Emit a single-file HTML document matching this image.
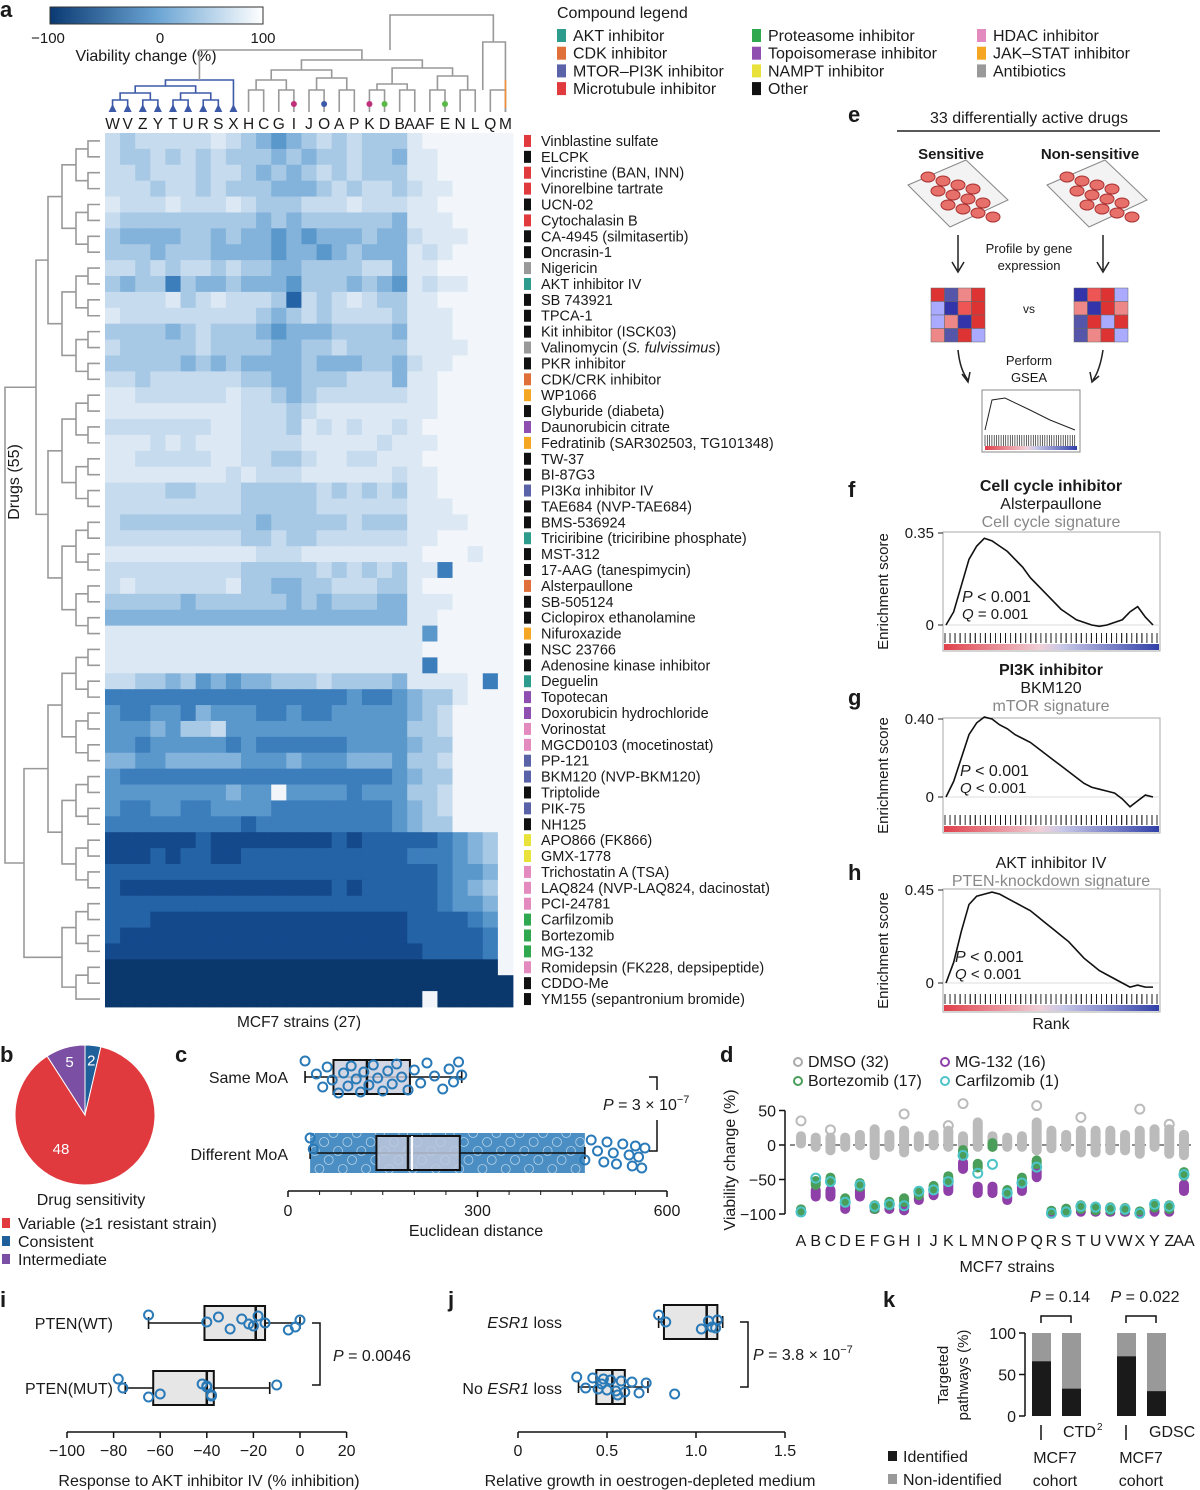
<!DOCTYPE html>
<html><head><meta charset="utf-8">
<style>
html,body{margin:0;padding:0;background:#fff;}
svg{display:block;font-family:"Liberation Sans",Arial,sans-serif;}
</style></head>
<body>
<svg id="fig" width="1200" height="1490" viewBox="0 0 1200 1490" xmlns="http://www.w3.org/2000/svg">
<g id="root"></g>
</svg>
<script>
// ---------- DATA ----------
const heatRows = [
"232222212345432323331000000","233232323334343323341100000","223222322343432323331100000",
"222322323334443232232110000","122212221233322212221100000","233333333343433333341110000",
"344443343445454443442111000","333433344445445434441210000","223232232334433332241100000",
"343363443444533343451211000","222213212223723212331100000","122222222234323222231110000",
"333343233345444333341110000","233333233334433233331111000","333334343444434443342110000",
"223222222334433322241100000","112222221223432222221100000","111111111222321111111100000",
"222222211222312121121000000","111212111222211111211100000","112222211223321122111000000",
"111111112122211111121100000","222233222333332323231100000","222222222333332222221110000",
"233333333343333323331111000","222222222332332222221100000","111111111122211111111000100",
"222222222333332323231160000","212222221334433222331000000","333334333333434333441110000",
"444444444444444444441100000","111111111111111111111500000","111111111111111111111000000",
"111111111111111111111600000","223343545443332333341111060","666666666666666656654331000",
"566556455566566555554320000","555453325555555555553320000","556555556566666655554330000",
"445544444555455544453320000","566666666666666666654330000","555555554550555565553320000",
"566556655556666666654320000","666666666766666666654330000","888888788888888787777765430",
"888787788777777777776665430","777777777777777777777765540","788888888888888787777765430",
"777777777777777777777765540","777888888888888888887777650","788888888888888888887777760",
"888888888888888888888777760","999999999999999999999999990","999999999999999999999999999",
"999999999999999999999099999"];
const drugNames = ["Vinblastine sulfate","ELCPK","Vincristine (BAN, INN)","Vinorelbine tartrate","UCN-02","Cytochalasin B","CA-4945 (silmitasertib)","Oncrasin-1","Nigericin","AKT inhibitor IV","SB 743921","TPCA-1","Kit inhibitor (ISCK03)","Valinomycin (S. fulvissimus)","PKR inhibitor","CDK/CRK inhibitor","WP1066","Glyburide (diabeta)","Daunorubicin citrate","Fedratinib (SAR302503, TG101348)","TW-37","BI-87G3","PI3Kα inhibitor IV","TAE684 (NVP-TAE684)","BMS-536924","Triciribine (triciribine phosphate)","MST-312","17-AAG (tanespimycin)","Alsterpaullone","SB-505124","Ciclopirox ethanolamine","Nifuroxazide","NSC 23766","Adenosine kinase inhibitor","Deguelin","Topotecan","Doxorubicin hydrochloride","Vorinostat","MGCD0103 (mocetinostat)","PP-121","BKM120 (NVP-BKM120)","Triptolide","PIK-75","NH125","APO866 (FK866)","GMX-1778","Trichostatin A (TSA)","LAQ824 (NVP-LAQ824, dacinostat)","PCI-24781","Carfilzomib","Bortezomib","MG-132","Romidepsin (FK228, depsipeptide)","CDDO-Me","YM155 (sepantronium bromide)"];
const drugClass = ["X","O","X","X","O","X","O","O","G","A","O","O","O","G","O","C","J","O","T","J","O","O","M","O","O","A","O","O","C","O","O","J","O","O","A","T","T","H","H","M","M","O","M","O","Y","Y","H","H","H","P","P","P","H","O","O"];
const strainCols = ["W","V","Z","Y","T","U","R","S","X","H","C","G","I","J","O","A","P","K","D","B","AA","F","E","N","L","Q","M"];
const classColor = {A:"#2e9c8c",C:"#e0703a",M:"#5a63a8",X:"#e03a3e",P:"#2fa84f",T:"#8e4fb0",Y:"#e8e23a",H:"#e38bbf",J:"#f5a623",G:"#999999",O:"#111111"};
const legendItems = [["AKT inhibitor","A"],["CDK inhibitor","C"],["MTOR–PI3K inhibitor","M"],["Microtubule inhibitor","X"],["Proteasome inhibitor","P"],["Topoisomerase inhibitor","T"],["NAMPT inhibitor","Y"],["Other","O"],["HDAC inhibitor","H"],["JAK–STAT inhibitor","J"],["Antibiotics","G"]];
const pieValues = [2,48,5];
const sameMoA = [27,45,55,62,70,80,88,95,100,108,115,120,128,135,142,150,158,165,172,180,190,200,210,220,232,245,255,262,270,275];
const diffOutliers = [35,40,470,480,490,500,505,515,520,530,540,545,550,555,560,565];
const dStrains = ["A","B","C","D","E","F","G","H","I","J","K","L","M","N","O","P","Q","R","S","T","U","V","W","X","Y","Z","AA"];
const dMG132 = [-100,-70,-70,-88,-70,-88,-88,-90,-75,-68,-62,-30,-65,-65,-75,-62,-42,-100,-98,-95,-95,-96,-97,-100,-93,-94,-62];
const dBort = [-96,-55,-50,-80,-58,-90,-85,-80,-70,-62,-48,-10,-30,0,-68,-50,-25,-98,-95,-90,-92,-93,-94,-99,-88,-90,-42];
const dCarf = [-97,-48,-53,-83,-58,-89,-86,-88,-67,-65,-53,-15,-41,-28,-70,-55,-32,-99,-97,-89,-90,-92,-93,-99,-86,-89,-43];
const dDmsoHi = [20,18,18,18,22,30,22,28,20,22,28,20,40,20,18,20,40,28,22,28,28,28,22,28,30,30,22];
const dDmsoLo = [-5,-10,-15,-10,-8,-22,-10,-18,-10,-8,-10,-8,-10,-10,-10,-10,-15,-12,-10,-18,-18,-15,-15,-20,-10,-20,-22];
const dOutl = [35,0,22,0,0,0,0,45,0,0,28,60,0,0,0,0,57,0,0,40,0,0,0,52,0,30,0];
const iWT = [-65,-40,-30,-25,-20,-18,-15,-5,0,-2,-35,-22];
const iMUT = [-78,-76,-65,-40,-38,-40,-38,-10,-60,-42];
const jESR = [0.79,0.83,1.03,1.07,1.11,1.12,1.09];
const jNo = [0.33,0.38,0.42,0.45,0.48,0.5,0.52,0.55,0.58,0.6,0.64,0.68,0.72,0.88,0.47,0.56];
const kIdent = [66,33,72,30];
const gseaF = [0,0.05,0.15,0.25,0.3,0.33,0.32,0.3,0.28,0.25,0.22,0.18,0.15,0.12,0.09,0.06,0.04,0.02,0.01,0,-0.005,0,0.01,0.02,0.05,0.07,0.03,0];
const gseaG = [0,0.08,0.2,0.32,0.38,0.41,0.4,0.37,0.35,0.32,0.3,0.28,0.25,0.22,0.19,0.16,0.13,0.1,0.07,0.05,0.04,0.03,0.02,-0.01,-0.05,-0.02,0.01,0.0];
const gseaH = [0,0.1,0.25,0.38,0.42,0.43,0.44,0.43,0.41,0.39,0.37,0.35,0.32,0.29,0.26,0.23,0.2,0.16,0.12,0.09,0.06,0.04,0.02,0.0,-0.02,-0.01,-0.02,-0.02];

// ---------- HELPERS ----------
const NS="http://www.w3.org/2000/svg";
const root=document.getElementById('root');
function el(tag,attrs,parent,txt){const e=document.createElementNS(NS,tag);for(const k in attrs)e.setAttribute(k,attrs[k]);if(txt!==undefined)e.textContent=txt;(parent||root).appendChild(e);return e;}
function T(x,y,s,size,anchor,parent,extra){const e=el('text',Object.assign({x:x,y:y,'font-size':size||15,'text-anchor':anchor||'start',fill:'#1a1a1a'},extra||{}),parent,s);return e;}
function G(name){const g=el('g',{});return g;}
function PT(x,y,pre,sup,parent,anchor){const t=el('text',{x:x,y:y,'font-size':16,fill:'#1a1a1a','text-anchor':anchor||'start'},parent);
 el('tspan',{'font-style':'italic'},t,'P');el('tspan',{},t,pre);if(sup)el('tspan',{'font-size':11,dy:-7},t,sup);return t;}
const heatColors=["#f2f6fa","#dce8f3","#c6dbee","#a7c9e5","#83b3db","#5a98cc","#3c7dbc","#2463a6","#14498c","#0a376c"];

// ---------- PANEL A ----------
const gA=G('heatmap-panel');
T(0,17,'a',22,'start',gA,{'font-weight':'bold'});
const defs=el('defs',{});
const lg=el('linearGradient',{id:'cb',x1:0,x2:1,y1:0,y2:0},defs);
el('stop',{offset:0,'stop-color':'#0b3a72'},lg);el('stop',{offset:0.5,'stop-color':'#6aa4d3'},lg);el('stop',{offset:1,'stop-color':'#ffffff'},lg);
const lg2=el('linearGradient',{id:'rank',x1:0,x2:1,y1:0,y2:0},defs);
el('stop',{offset:0,'stop-color':'#e0404a'},lg2);el('stop',{offset:0.45,'stop-color':'#f0d0d8'},lg2);el('stop',{offset:0.55,'stop-color':'#c8c8e8'},lg2);el('stop',{offset:1,'stop-color':'#3040a8'},lg2);
const cb=el('rect',{x:50,y:7,width:213,height:17,fill:'url(#cb)',stroke:'#333','stroke-width':1},gA);

T(48,43,'−100',15,'middle',gA);T(160,43,'0',15,'middle',gA);T(263,43,'100',15,'middle',gA);
T(146,61,'Viability change (%)',16,'middle',gA);
const gL=G('compound-legend');
T(557,18,'Compound legend',16,'start',gL);
legendItems.forEach((it,i)=>{const col=Math.floor(i/4),row=i%4;const x=[557,752,977][col],y=35+row*17.7;
 const r=el('rect',{x:x,y:y-6,width:9,height:13,fill:classColor[it[1]]},gL);
 
 T(x+16,y+6,it[0],16,'start',gL);});
const HX=105,HY=133,CW=408/27,CH=874/55;
const gH=G('heatmap-cells');
heatRows.forEach((row,r)=>{for(let c=0;c<27;c++){const v=+row[c];
 const cell=el('rect',{x:HX+c*CW,y:HY+r*CH,width:CW+0.4,height:CH+0.4,fill:heatColors[v]},gH);
 }});
strainCols.forEach((s,c)=>{T(HX+c*CW+CW/2,129,s,15.5,'middle',gA);});
const gR=G('row-labels');
drugNames.forEach((n,r)=>{const y=HY+r*CH+CH/2;
 const sw=el('rect',{x:524,y:y-6,width:7,height:12,fill:classColor[drugClass[r]]||'#111'},gR);
 
 if(n.indexOf('S. fulvissimus')>=0){const t=T(541,y+5,'Valinomycin (',14.5,'start',gR);el('tspan',{'font-style':'italic'},t,'S. fulvissimus');el('tspan',{},t,')');}
 else T(541,y+5,n,14.5,'start',gR);});
T(299,1027,'MCF7 strains (27)',15.5,'middle',gA);
T(19,482,'Drugs (55)',16,'middle',gA,{transform:'rotate(-90 19 482)'});
const gD=G('row-dendrogram');
function vbr(x,y1,y2,xl1,xl2,col){el('path',{d:`M${xl1},${y1}H${x}V${y2}H${xl2}`,fill:'none',stroke:col||'#999','stroke-width':1.6},gD);}
const mids=[];for(let r=0;r<55;r++)mids.push(HY+r*CH+CH/2);
let lvl=mids.map(y=>({y:y,x:100}));const xs=[88,76,62,48];
xs.forEach(x=>{const n=[];for(let i=0;i<lvl.length;i+=2){if(i+1<lvl.length){vbr(x,lvl[i].y,lvl[i+1].y,lvl[i].x,lvl[i+1].x);n.push({y:(lvl[i].y+lvl[i+1].y)/2,x:x});}else n.push(lvl[i]);}lvl=n;});
if(lvl.length>=4){
 vbr(36,lvl[0].y,lvl[1].y,lvl[0].x,lvl[1].x);
 vbr(24,lvl[2].y,lvl[3].y,lvl[2].x,lvl[3].x);
 vbr(5,(lvl[0].y+lvl[1].y)/2,(lvl[2].y+lvl[3].y)/2,36,24);
}
// top dendrogram
const gT=G('column-dendrogram');
function hbr(y,x1,x2,yl1,yl2,col){el('path',{d:`M${x1},${yl1}V${y}H${x2}V${yl2}`,fill:'none',stroke:col||'#999','stroke-width':1.6},gT);}
const ccx=c=>HX+c*CW+CW/2;const blue='#3d5aa8';
for(let c=0;c<8;c+=2){hbr(100,ccx(c),ccx(c+1),112,112,blue);}
hbr(93,ccx(0.5),ccx(2.5),100,100,blue);hbr(93,ccx(4.5),ccx(6.5),100,100,blue);hbr(86,ccx(1.5),ccx(5.5),93,93,blue);hbr(80,ccx(3.5),ccx(8),86,112,blue);
[[9,10],[11,12],[13,14],[15,16],[17,18],[19,20],[21,22],[23,24],[25,26]].forEach(p=>hbr(90,ccx(p[0]),ccx(p[1]),112,112,'#999'));
hbr(80,ccx(9.5),ccx(11.5),90,90);hbr(78,ccx(13.5),ccx(15.5),90,90);hbr(84,ccx(17.5),ccx(19.5),90,90);hbr(76,ccx(21.5),ccx(23.5),90,90);
hbr(70,ccx(10.5),ccx(14.5),80,78);hbr(68,ccx(18.5),ccx(22.5),84,76);hbr(60,ccx(12.5),ccx(20.5),70,68);hbr(50,ccx(5.75),ccx(16.5),80,60);
hbr(42,ccx(24.5),ccx(26),90,112,'#999');hbr(15,390,ccx(25.2),50,42);
el('path',{d:`M${ccx(26)},80V108`,stroke:'#f0903a','stroke-width':1.6,fill:'none'},gT);
[[12,'#c0307a'],[17,'#c0307a'],[18,'#5cb848'],[14,blue],[22,'#5cb848']].forEach(p=>{el('circle',{cx:ccx(p[0]),cy:104,r:3,fill:p[1]},gT);});
for(let c=0;c<9;c++){el('path',{d:`M${ccx(c)-4},112L${ccx(c)},104L${ccx(c)+4},112Z`,fill:blue},gT);}

// ---------- PANEL E ----------
const gE=G('panel-e-schematic');
T(848,122,'e',22,'start',gE,{'font-weight':'bold'});
T(1029,123,'33 differentially active drugs',16,'middle',gE);
el('line',{x1:897,x2:1160,y1:131,y2:131,stroke:'#222','stroke-width':1.5},gE);
T(951,159,'Sensitive',15,'middle',gE,{'font-weight':'bold'});T(1090,159,'Non-sensitive',15,'middle',gE,{'font-weight':'bold'});
[[958,195],[1097,195]].forEach(p=>{
 el('path',{d:`M${p[0]-50},${p[1]-10}L${p[0]+8},${p[1]-35}L${p[0]+50},${p[1]+5}L${p[0]-8},${p[1]+32}Z`,fill:'#f3f3f3',stroke:'#888'},gE);
 for(let i=0;i<3;i++)for(let j=0;j<4;j++)el('ellipse',{cx:p[0]-30+j*15+i*10,cy:p[1]-18+i*14+j*4,rx:7,ry:5,fill:'#e8706a',stroke:'#a33'},gE);});
el('path',{d:'M958,235V270M952,262L958,272L964,262',stroke:'#222',fill:'none','stroke-width':1.5},gE);
el('path',{d:'M1103,235V270M1097,262L1103,272L1109,262',stroke:'#222',fill:'none','stroke-width':1.5},gE);
T(1029,253,'Profile by gene',13,'middle',gE);T(1029,270,'expression',13,'middle',gE);
const hm1=['#d33','#55a','#e88','#d33','#aaf','#33a','#e55','#d33','#aaf','#e88','#33a','#d33','#e88','#55a','#d33','#aaf'];
[[931,288],[1074,288]].forEach((p,k)=>{for(let i=0;i<4;i++)for(let j=0;j<4;j++){el('rect',{x:p[0]+j*13.5,y:p[1]+i*13.5,width:13.5,height:13.5,fill:hm1[(i*4+j+k*5)%16],stroke:'#666','stroke-width':0.5},gE);}});
T(1029,313,'vs',12,'middle',gE);
T(1029,365,'Perform',13,'middle',gE);T(1029,382,'GSEA',13,'middle',gE);
el('path',{d:'M958,350Q960,370 968,380M962,374L968,382L970,372',stroke:'#222',fill:'none','stroke-width':1.5},gE);
el('path',{d:'M1103,350Q1100,370 1093,380M1090,372L1092,382L1099,376',stroke:'#222',fill:'none','stroke-width':1.5},gE);
el('rect',{x:982,y:390,width:98,height:62,fill:'#fff',stroke:'#888'},gE);
el('path',{d:'M985,430L992,400L1005,398L1030,410L1050,420L1075,430',stroke:'#222',fill:'none'},gE);
for(let i=0;i<40;i++)el('line',{x1:985+i*2.3,x2:985+i*2.3,y1:435,y2:446,stroke:'#222','stroke-width':0.7},gE);
el('rect',{x:985,y:446,width:92,height:4,fill:'url(#rank)'},gE);

// ---------- GSEA panels f g h ----------
function gsea(name,letter,ly,titles,top,box,ymax,ylab,vals,pq){
 const g=G(name);
 T(848,ly,letter,22,'start',g,{'font-weight':'bold'});
 titles.forEach((t,i)=>T(1051,top+i*18,t[0],16,'middle',g,{fill:t[1]||'#1a1a1a','font-weight':t[2]||'normal'}));
 const [x0,y0,x1,y1,yz]=box;
 el('rect',{x:x0,y:y0,width:x1-x0,height:y1-y0,fill:'#fff',stroke:'#aaa'},g);
 const ysc=v=>yz-(v/ymax)*(yz-y0-1);
 el('line',{x1:x0,x2:x1,y1:yz,y2:yz,stroke:'#ddd'},g);
 el('path',{d:`M${x0-5},${y0+1}H${x0}M${x0-5},${yz}H${x0}`,stroke:'#222'},g);
 T(x0-9,y0+6,ymax.toFixed(2),15,'end',g);T(x0-9,yz+5,'0',15,'end',g);
 const pts=vals.map((v,i)=>`${x0+3+i*(x1-x0-10)/(vals.length-1)},${ysc(v)}`).join(' ');
 const line=el('polyline',{points:pts,fill:'none',stroke:'#111','stroke-width':1.6},g);
 
 for(let i=0;i<70;i++){const x=x0+4+i*(x1-x0-8)/69+((i*7)%5)-2;el('line',{x1:x,x2:x,y1:y1-18,y2:y1-8,stroke:'#111','stroke-width':0.9},g);}
 el('rect',{x:x0+1,y:y1-7,width:x1-x0-2,height:6,fill:'url(#rank)'},g);
 PT(pq[0],pq[1],' < 0.001',null,g);
 const q=el('text',{x:pq[0],y:pq[1]+17,'font-size':15,fill:'#1a1a1a'},g);el('tspan',{'font-style':'italic'},q,'Q');el('tspan',{},q,pq[2]);
 T(888,(y0+y1)/2,ylab,15,'middle',g,{transform:`rotate(-90 888 ${(y0+y1)/2})`});
 return g;}
gsea('gsea-f','f',497,[['Cell cycle inhibitor',null,'bold'],['Alsterpaullone'],['Cell cycle signature','#888']],491,[943,532,1160,651,625],0.35,'Enrichment score',gseaF,[962,602,' = 0.001']);
gsea('gsea-g','g',705,[['PI3K inhibitor',null,'bold'],['BKM120'],['mTOR signature','#888']],675,[943,718,1160,833,797],0.40,'Enrichment score',gseaG,[960,776,' < 0.001']);
const gh=gsea('gsea-h','h',880,[['AKT inhibitor IV'],['PTEN-knockdown signature','#888']],868,[943,889,1160,1012,983],0.45,'Enrichment score',gseaH,[955,962,' < 0.001']);
T(1051,1029,'Rank',16,'middle',gh);

// ---------- PANEL B pie ----------
const gB=G('pie-panel');
T(0,1062,'b',22,'start',gB,{'font-weight':'bold'});
const pc=[85,1115],pr=70,pcol=['#1f5f9a','#e03a3e','#7b4fa3'];
const tot=pieValues.reduce((a,b)=>a+b,0);let ang=0;
pieValues.forEach((v,i)=>{const a0=ang,a1=ang+v/tot*2*Math.PI;ang=a1;
 const p0=[pc[0]+pr*Math.sin(a0),pc[1]-pr*Math.cos(a0)],p1=[pc[0]+pr*Math.sin(a1),pc[1]-pr*Math.cos(a1)];
 const s=el('path',{d:`M${pc[0]},${pc[1]}L${p0[0]},${p0[1]}A${pr},${pr} 0 ${a1-a0>Math.PI?1:0} 1 ${p1[0]},${p1[1]}Z`,fill:pcol[i],stroke:'#fff','stroke-width':1},gB);
 
 const am=(a0+a1)/2,rr=55;
 const lx=i==1?61:pc[0]+rr*Math.sin(am), ly=i==1?1154:pc[1]-rr*Math.cos(am)+5;
 T(lx,ly,String(v),15,'middle',gB,{fill:'#fff'});});
T(91,1205,'Drug sensitivity',16,'middle',gB);
[['Variable (≥1 resistant strain)','#e03a3e'],['Consistent','#1f5f9a'],['Intermediate','#7b4fa3']].forEach((l,i)=>{
 el('rect',{x:2,y:1218+i*18,width:8,height:10,fill:l[1]},gB);T(18,1229+i*18,l[0],16,'start',gB);});

// ---------- PANEL C ----------
const gC=G('boxplot-c');
T(175,1062,'c',22,'start',gC,{'font-weight':'bold'});
const cx0=288,cs=(667-288)/600,cX=v=>cx0+v*cs;
function box(g,y,h,wl,q1,med,q3,wh,xf,col){
 el('line',{x1:xf(wl),x2:xf(wh),y1:y,y2:y,stroke:'#111','stroke-width':1.6},g);
 el('path',{d:`M${xf(wl)},${y-6}V${y+6}M${xf(wh)},${y-6}V${y+6}`,stroke:'#111','stroke-width':1.6},g);
 const b=el('rect',{x:xf(q1),y:y-h/2,width:xf(q3)-xf(q1),height:h,fill:col||'rgba(200,205,220,0.8)',stroke:'#111','stroke-width':2},g);
 
 el('line',{x1:xf(med),x2:xf(med),y1:y-h/2,y2:y+h/2,stroke:'#111','stroke-width':2.5},g);}
function dot(g,x,y,col){const d=el('circle',{cx:x,cy:y,r:4.5,fill:'none',stroke:col||'#2a7ab8','stroke-width':2},g);}
T(288,1083,'Same MoA',16,'end',gC);T(288,1160,'Different MoA',16,'end',gC);
box(gC,1077,34,27,72,125,193,275,cX);
sameMoA.forEach((v,i)=>dot(gC,cX(v),1077+((i*13)%33)-16));
el('rect',{x:cX(35),y:1133,width:cX(470)-cX(35),height:40,fill:'#2a7ab8',opacity:0.85},gC);
for(let i=0;i<60;i++){el('circle',{cx:cX(35)+i*(cX(470)-cX(35))/59,cy:1133+((i*7)%5)*9,r:4.5,fill:'none',stroke:'#fff','stroke-width':0.8,opacity:0.6},gC);}
box(gC,1153,34,35,140,190,272,470,cX,'rgba(190,200,220,0.85)');
el('line',{x1:cX(190)+4,x2:cX(190)+4,y1:1136,y2:1170,stroke:'#fff','stroke-width':2},gC);
diffOutliers.forEach((v,i)=>dot(gC,cX(v),1153+((i*11)%31)-15));
el('line',{x1:288,x2:667,y1:1191,y2:1191,stroke:'#111','stroke-width':1.5},gC);
[0,300,600].forEach(v=>{el('line',{x1:cX(v),x2:cX(v),y1:1191,y2:1197,stroke:'#111','stroke-width':1.5},gC);T(cX(v),1216,String(v),16,'middle',gC);});
[50,100,150,200,250,350,400,450,500,550].forEach(v=>el('line',{x1:cX(v),x2:cX(v),y1:1191,y2:1195,stroke:'#111'},gC));
T(476,1236,'Euclidean distance',16,'middle',gC);
el('path',{d:'M649,1077H657V1090M657,1120V1151H649',stroke:'#111','stroke-width':1.5,fill:'none'},gC);
PT(603,1110,' = 3 × 10','−7',gC);

// ---------- PANEL D ----------
const gDd=G('strip-d');
T(720,1062,'d',22,'start',gDd,{'font-weight':'bold'});
const dY=v=>1145-v*0.69,dX=i=>801+i*14.73;
[['DMSO (32)','#aaa',798,1067],['MG-132 (16)','#8e3fa8',945,1067],['Bortezomib (17)','#4a9e5a',798,1086],['Carfilzomib (1)','#4cc4c8',945,1086]].forEach(l=>{
 el('circle',{cx:l[2],cy:l[3]-5,r:4,fill:'none',stroke:l[1],'stroke-width':2},gDd);T(l[2]+10,l[3],l[0],16,'start',gDd);});
el('line',{x1:785,x2:785,y1:dY(50),y2:dY(-100),stroke:'#111','stroke-width':1.5},gDd);
[50,0,-50,-100].forEach(v=>{el('line',{x1:779,x2:785,y1:dY(v),y2:dY(v),stroke:'#111','stroke-width':1.5},gDd);T(776,dY(v)+6,v<0?'−'+(-v):String(v),16,'end',gDd);});
T(735,1160,'Viability change (%)',16,'middle',gDd,{transform:'rotate(-90 735 1160)'});
el('line',{x1:790,x2:1195,y1:dY(0),y2:dY(0),stroke:'#666','stroke-width':1.5,'stroke-dasharray':'5,4'},gDd);
dStrains.forEach((s,i)=>{const x=dX(i);
 const bar=el('rect',{x:x-5,y:dY(dDmsoHi[i]),width:10,height:dY(dDmsoLo[i])-dY(dDmsoHi[i]),rx:5,fill:'#bbb'},gDd);
 
 if(dOutl[i])dot(gDd,x,dY(dOutl[i]),'#bbb');
 const mg=el('rect',{x:x-5,y:dY(Math.min(dMG132[i]+12,dBort[i])),width:10,height:dY(Math.max(dMG132[i]-12,-104))-dY(Math.min(dMG132[i]+12,dBort[i])),rx:5,fill:'#8e3fa8'},gDd);
 
 const bo=el('rect',{x:x-5,y:dY(dBort[i]+10),width:10,height:dY(Math.max(dBort[i]-10,-102))-dY(dBort[i]+10),rx:5,fill:'#4a9e5a'},gDd);
 
 dot(gDd,x,dY(dCarf[i]),'#4cc4c8');
 T(x,1246,s,16,'middle',gDd);});
T(1007,1272,'MCF7 strains',16,'middle',gDd);

// ---------- PANEL I ----------
const gI=G('boxplot-i');
T(0,1307,'i',22,'start',gI,{'font-weight':'bold'});
const iX=v=>300+v*2.33;
T(113,1329,'PTEN(WT)',16,'end',gI);T(113,1394,'PTEN(MUT)',16,'end',gI);
box(gI,1323,34,-65,-41,-19,-15,0,iX,'#e6e6e6');box(gI,1388,34,-75,-63,-40,-37,-13,iX,'#e6e6e6');
iWT.forEach((v,i)=>dot(gI,iX(v),1323+((i*7)%17)-8));iMUT.forEach((v,i)=>dot(gI,iX(v),1388+((i*9)%19)-9));
el('line',{x1:iX(-100),x2:iX(20),y1:1432,y2:1432,stroke:'#111','stroke-width':1.5},gI);
[-100,-80,-60,-40,-20,0,20].forEach(v=>{el('line',{x1:iX(v),x2:iX(v),y1:1432,y2:1438,stroke:'#111','stroke-width':1.5},gI);T(iX(v),1456,v<0?'−'+(-v):String(v),16,'middle',gI);});
T(209,1486,'Response to AKT inhibitor IV (% inhibition)',16,'middle',gI);
el('path',{d:'M312,1323H320V1385H312',stroke:'#111','stroke-width':1.5,fill:'none'},gI);
PT(333,1361,' = 0.0046',null,gI);

// ---------- PANEL J ----------
const gJ=G('boxplot-j');
T(448,1307,'j',22,'start',gJ,{'font-weight':'bold'});
const jX=v=>518+v*178;
const e1=T(562,1328,'',16,'end',gJ);el('tspan',{'font-style':'italic'},e1,'ESR1');el('tspan',{},e1,' loss');
const e2=T(562,1394,'No ',16,'end',gJ);el('tspan',{'font-style':'italic'},e2,'ESR1');el('tspan',{},e2,' loss');
box(gJ,1322,34,0.79,0.82,1.06,1.12,1.15,jX,'#e6e6e6');box(gJ,1387,34,0.34,0.44,0.53,0.6,0.73,jX,'#e6e6e6');
jESR.forEach((v,i)=>dot(gJ,jX(v),1322+((i*7)%15)-7));jNo.forEach((v,i)=>dot(gJ,jX(v),1387+((i*11)%21)-10));
el('line',{x1:jX(0),x2:jX(1.5),y1:1432,y2:1432,stroke:'#111','stroke-width':1.5},gJ);
[0,0.5,1,1.5].forEach(v=>{el('line',{x1:jX(v),x2:jX(v),y1:1432,y2:1438,stroke:'#111','stroke-width':1.5},gJ);T(jX(v),1456,v===0?'0':v.toFixed(1),16,'middle',gJ);});
T(650,1486,'Relative growth in oestrogen-depleted medium',16,'middle',gJ);
el('path',{d:'M740,1322H748V1387H740',stroke:'#111','stroke-width':1.5,fill:'none'},gJ);
PT(753,1360,' = 3.8 × 10','−7',gJ);

// ---------- PANEL K ----------
const gK=G('stacked-bars-k');
T(883,1307,'k',22,'start',gK,{'font-weight':'bold'});
const kY=v=>1416-v*0.83;
el('line',{x1:1025,x2:1025,y1:kY(100),y2:kY(0),stroke:'#111','stroke-width':1.5},gK);
[100,50,0].forEach(v=>{el('line',{x1:1019,x2:1025,y1:kY(v),y2:kY(v),stroke:'#111','stroke-width':1.5},gK);T(1016,kY(v)+6,String(v),16,'end',gK);});
T(948,1375,'Targeted',15,'middle',gK,{transform:'rotate(-90 948 1375)'});T(968,1375,'pathways (%)',15,'middle',gK,{transform:'rotate(-90 968 1375)'});
const kx=[1032,1062,1117,1147];
kIdent.forEach((v,i)=>{const g=el('rect',{x:kx[i],y:kY(100),width:19,height:kY(v)-kY(100),fill:'#999'},gK);
 
 const b=el('rect',{x:kx[i],y:kY(v),width:19,height:kY(0)-kY(v),fill:'#1a1a1a'},gK);
 });
el('path',{d:'M1041,1323V1316H1071V1323M1126,1323V1316H1156V1323',stroke:'#111','stroke-width':1.5,fill:'none'},gK);
PT(1060,1302,' = 0.14',null,gK,'middle');PT(1145,1302,' = 0.022',null,gK,'middle');
el('path',{d:'M1041,1425V1440M1126,1425V1440',stroke:'#111','stroke-width':1.5},gK);
T(1063,1437,'CTD',16,'start',gK);T(1097,1430,'2',10,'start',gK);T(1149,1437,'GDSC',16,'start',gK);
T(1055,1463,'MCF7',16,'middle',gK);T(1055,1486,'cohort',16,'middle',gK);T(1141,1463,'MCF7',16,'middle',gK);T(1141,1486,'cohort',16,'middle',gK);
el('rect',{x:888,y:1451,width:9,height:10,fill:'#1a1a1a'},gK);T(903,1462,'Identified',16,'start',gK);
el('rect',{x:888,y:1474,width:9,height:10,fill:'#999'},gK);T(903,1485,'Non-identified',16,'start',gK);
</script>
</body></html>
